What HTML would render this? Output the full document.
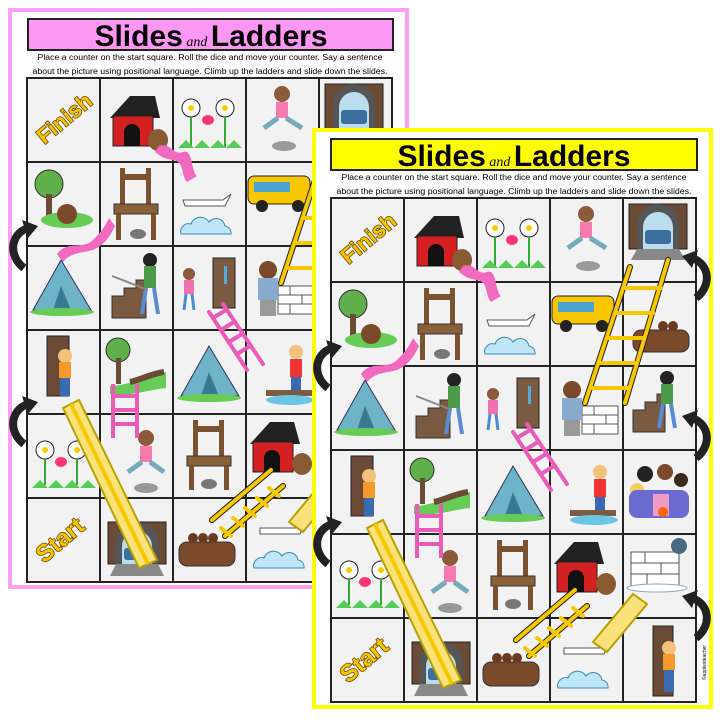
<!DOCTYPE html>
<html><head><meta charset="utf-8"><style>
html,body{margin:0;padding:0;background:#fff;width:720px;height:720px;overflow:hidden}
svg{display:block}
.t{font-family:"Liberation Sans",sans-serif;font-weight:bold}
.fs{font-family:"Liberation Sans",sans-serif;font-weight:bold;fill:#f8c200;stroke:#5a4000;stroke-width:1.4;paint-order:stroke}
</style></head><body>
<svg width="720" height="720" viewBox="0 0 720 720" xmlns="http://www.w3.org/2000/svg">
<defs>
<g id="board">
  <rect x="0" y="0" width="365" height="504" fill="#f2f2f2"/>
  <g transform="translate(73,0)">
    <polygon points="10,40 30,18 55,18 60,40" fill="#222"/>
    <rect x="13" y="38" width="40" height="30" fill="#d42020" stroke="#222"/>
    <path d="M24 68 v-14 a8 8 0 0 1 16 0 v14z" fill="#111"/>
    <ellipse cx="58" cy="62" rx="10" ry="11" fill="#8a5a32"/>
  </g>
  <g transform="translate(146,0)">
    <circle cx="18" cy="30" r="9" fill="#fff" stroke="#222"/><circle cx="18" cy="30" r="3" fill="#f5d000"/>
    <circle cx="52" cy="30" r="9" fill="#fff" stroke="#222"/><circle cx="52" cy="30" r="3" fill="#f5d000"/>
    <path d="M18 39v30M52 39v30" stroke="#3a3" stroke-width="2"/>
    <path d="M5 70 l8-8 8 8 8-8 8 8 8-8 8 8 8-8 8 8z" fill="#5c5"/>
    <ellipse cx="35" cy="42" rx="6" ry="5" fill="#f37"/>
  </g>
  <g transform="translate(219,0)">
    <circle cx="36" cy="16" r="8" fill="#8a5a3a"/><rect x="30" y="24" width="12" height="16" fill="#f47ab0"/>
    <path d="M32 40l-14 10M40 40l16 10" stroke="#7ab" stroke-width="5"/>
    <ellipse cx="38" cy="68" rx="12" ry="5" fill="#999"/>
  </g>
  <g transform="translate(292,0)">
    <rect x="6" y="6" width="58" height="45" fill="#6b4a36" stroke="#222"/>
    <path d="M14 51v-24a21 21 0 0 1 42 0v24z" fill="#555"/>
    <path d="M20 51v-22a15 15 0 0 1 30 0v22z" fill="#bde"/>
    <rect x="22" y="32" width="26" height="14" rx="3" fill="#3a6fa0"/>
    <polygon points="8,62 62,62 56,51 14,51" fill="#888"/>
  </g>
  <g transform="translate(0,84)">
    <circle cx="22" cy="22" r="14" fill="#5fb04a" stroke="#333"/><rect x="19" y="32" width="6" height="26" fill="#6b4a36"/>
    <ellipse cx="40" cy="58" rx="26" ry="8" fill="#6c5"/><ellipse cx="40" cy="52" rx="10" ry="10" fill="#7a4a2a"/>
  </g>
  <g transform="translate(73,84)">
    <rect x="20" y="6" width="5" height="36" fill="#7a5230"/><rect x="46" y="6" width="5" height="36" fill="#7a5230"/>
    <rect x="20" y="12" width="31" height="6" fill="#7a5230"/>
    <rect x="14" y="42" width="44" height="10" fill="#8a6038" stroke="#333"/>
    <rect x="16" y="52" width="5" height="26" fill="#7a5230"/><rect x="51" y="52" width="5" height="26" fill="#7a5230"/>
    <ellipse cx="38" cy="72" rx="8" ry="5" fill="#777"/>
  </g>
  <g transform="translate(146,84)">
    <path d="M10 38h40l8-6-6 12h-40z" fill="#fff" stroke="#555"/>
    <path d="M8 72a8 8 0 0 1 10-10a10 10 0 0 1 18-2a9 9 0 0 1 16 4a7 7 0 0 1 6 8z" fill="#bfe6f6" stroke="#3a8ab0"/>
  </g>
  <g transform="translate(219,84)">
    <rect x="2" y="14" width="62" height="28" rx="6" fill="#f8c700" stroke="#222"/>
    <rect x="8" y="20" width="36" height="10" fill="#4aa3d0"/>
    <circle cx="16" cy="44" r="6" fill="#222"/><circle cx="52" cy="44" r="6" fill="#222"/>
  </g>
  <g transform="translate(292,84)">
    <rect x="10" y="48" width="56" height="22" rx="8" fill="#7a4a2a" stroke="#333"/>
    <circle cx="40" cy="44" r="5" fill="#6a3a20"/><circle cx="50" cy="44" r="5" fill="#6a3a20"/>
  </g>
  <g transform="translate(0,168)">
    <polygon points="6,64 34,14 64,64" fill="#6fb3c8" stroke="#335"/>
    <polygon points="26,64 34,40 44,64" fill="#3a7a90"/>
    <ellipse cx="35" cy="66" rx="32" ry="4" fill="#6c5"/>
  </g>
  <g transform="translate(73,168)">
    <path d="M12 72v-22h12v-8h12v-8h10v38z" fill="#7a5a40" stroke="#333"/>
    <circle cx="50" cy="14" r="7" fill="#222"/><rect x="44" y="20" width="12" height="22" fill="#4a9a4a"/>
    <path d="M46 42l-4 26M54 42l4 26" stroke="#5a8ad0" stroke-width="4"/>
    <path d="M12 30l36 14" stroke="#888" stroke-width="2"/>
  </g>
  <g transform="translate(146,168)">
    <circle cx="16" cy="28" r="6" fill="#8a5a3a"/><rect x="11" y="34" width="10" height="14" fill="#f070b0"/>
    <path d="M13 48l-2 16M19 48l2 16" stroke="#4a8ad0" stroke-width="3"/>
    <rect x="40" y="12" width="22" height="50" fill="#7a5a40" stroke="#222"/>
    <rect x="51" y="20" width="3" height="18" fill="#5ad"/>
  </g>
  <g transform="translate(219,168)">
    <rect x="32" y="40" width="36" height="28" fill="#fff" stroke="#555"/>
    <path d="M32 49h36M32 58h36M44 40v9M56 49v9M44 58v10" stroke="#555"/>
    <circle cx="22" cy="24" r="9" fill="#7a4a2a"/><rect x="12" y="32" width="20" height="22" fill="#8ac"/>
    <rect x="14" y="54" width="16" height="16" fill="#999"/>
  </g>
  <g transform="translate(292,168)">
    <path d="M10 66v-22h12v-8h12v-8h8v38z" fill="#7a5a40" stroke="#333"/>
    <circle cx="44" cy="12" r="7" fill="#222"/><rect x="38" y="18" width="12" height="20" fill="#4a9a4a"/>
    <path d="M40 38l-4 24M48 38l4 24" stroke="#5a8ad0" stroke-width="4"/>
  </g>
  <g transform="translate(0,252)">
    <rect x="20" y="6" width="22" height="60" fill="#6a4a36" stroke="#222"/>
    <circle cx="38" cy="26" r="7" fill="#f3c17a"/><rect x="32" y="32" width="12" height="16" fill="#f59a2a"/>
    <rect x="33" y="48" width="10" height="18" fill="#3a6ab0"/>
  </g>
  <g transform="translate(73,252)">
    <circle cx="18" cy="20" r="12" fill="#5fb04a" stroke="#333"/><rect x="16" y="28" width="5" height="26" fill="#6b4a36"/>
    <path d="M10 56c20 0 30-10 56-14v16c-20 2-30 8-56 6z" fill="#6c5"/>
    <path d="M30 52c10-2 20-8 34-10" stroke="#6b4a36" stroke-width="6" fill="none"/>
  </g>
  <g transform="translate(146,252)">
    <polygon points="8,66 36,16 66,66" fill="#6fb3c8" stroke="#335"/>
    <polygon points="28,66 36,42 46,66" fill="#3a7a90"/>
    <ellipse cx="36" cy="68" rx="32" ry="4" fill="#6c5"/>
  </g>
  <g transform="translate(219,252)">
    <circle cx="50" cy="22" r="7" fill="#f3c17a"/><rect x="44" y="29" width="12" height="18" fill="#e33"/>
    <rect x="45" y="47" width="10" height="14" fill="#3a6ab0"/>
    <rect x="20" y="60" width="46" height="6" fill="#7a5a40"/>
    <ellipse cx="44" cy="70" rx="24" ry="5" fill="#6bc6e6"/>
  </g>
  <g transform="translate(292,252)">
    <circle cx="22" cy="24" r="8" fill="#222"/><circle cx="42" cy="22" r="8" fill="#7a4a2a"/><circle cx="58" cy="30" r="7" fill="#3a2a1a"/>
    <circle cx="14" cy="40" r="7" fill="#f2d060"/>
    <rect x="6" y="40" width="60" height="28" rx="8" fill="#6a6ad0"/>
    <rect x="30" y="44" width="16" height="22" fill="#f09ac8"/>
    <circle cx="40" cy="62" r="5" fill="#f60"/>
  </g>
  <g transform="translate(0,336)">
    <circle cx="18" cy="36" r="9" fill="#fff" stroke="#222"/><circle cx="18" cy="36" r="3" fill="#f5d000"/>
    <circle cx="50" cy="36" r="9" fill="#fff" stroke="#222"/><circle cx="50" cy="36" r="3" fill="#f5d000"/>
    <path d="M18 45v26M50 45v26" stroke="#3a3" stroke-width="2"/>
    <path d="M5 74l8-8 8 8 8-8 8 8 8-8 8 8 8-8 8 8z" fill="#5c5"/>
    <ellipse cx="34" cy="48" rx="6" ry="5" fill="#f37"/>
  </g>
  <g transform="translate(73,336)">
    <circle cx="46" cy="24" r="8" fill="#8a5a3a"/><rect x="40" y="32" width="12" height="16" fill="#f47ab0"/>
    <path d="M42 48l-14 10M50 48l14 10" stroke="#7ab" stroke-width="5"/>
    <ellipse cx="46" cy="74" rx="12" ry="5" fill="#999"/>
  </g>
  <g transform="translate(146,336)">
    <rect x="20" y="6" width="5" height="36" fill="#7a5230"/><rect x="46" y="6" width="5" height="36" fill="#7a5230"/>
    <rect x="20" y="12" width="31" height="6" fill="#7a5230"/>
    <rect x="14" y="42" width="44" height="10" fill="#8a6038" stroke="#333"/>
    <rect x="16" y="52" width="5" height="24" fill="#7a5230"/><rect x="51" y="52" width="5" height="24" fill="#7a5230"/>
    <ellipse cx="36" cy="70" rx="8" ry="5" fill="#777"/>
  </g>
  <g transform="translate(219,336)">
    <polygon points="4,30 24,8 48,8 54,30" fill="#222"/>
    <rect x="7" y="28" width="40" height="30" fill="#d42020" stroke="#222"/>
    <path d="M18 58v-14a8 8 0 0 1 16 0v14z" fill="#111"/>
    <ellipse cx="56" cy="50" rx="10" ry="11" fill="#8a5a32"/>
  </g>
  <g transform="translate(292,336)">
    <rect x="8" y="18" width="48" height="34" fill="#fff" stroke="#555"/>
    <path d="M8 29h48M8 40h48M22 18v11M38 29v11M24 40v12" stroke="#555"/>
    <ellipse cx="34" cy="54" rx="30" ry="4" fill="#fff" stroke="#8ab"/>
    <circle cx="56" cy="12" r="8" fill="#4a6a80"/>
  </g>
  <g transform="translate(73,420)">
    <rect x="8" y="24" width="58" height="42" fill="#6b4a36" stroke="#222"/>
    <path d="M15 66v-20a22 22 0 0 1 44 0v20z" fill="#555"/>
    <path d="M22 66v-18a15 15 0 0 1 30 0v18z" fill="#bde"/>
    <rect x="24" y="50" width="26" height="12" rx="3" fill="#3a6fa0"/>
    <polygon points="10,78 64,78 58,66 16,66" fill="#888"/>
  </g>
  <g transform="translate(146,420)">
    <rect x="6" y="44" width="56" height="24" rx="8" fill="#7a4a2a" stroke="#333"/>
    <circle cx="20" cy="40" r="5" fill="#6a3a20"/><circle cx="30" cy="40" r="5" fill="#6a3a20"/><circle cx="40" cy="40" r="5" fill="#6a3a20"/>
  </g>
  <g transform="translate(219,420)">
    <path d="M14 30h38l8-6-6 12h-40z" fill="#fff" stroke="#555"/>
    <path d="M8 70a8 8 0 0 1 10-10a10 10 0 0 1 18-2a9 9 0 0 1 16 4a7 7 0 0 1 6 8z" fill="#bfe6f6" stroke="#3a8ab0"/>
  </g>
  <g transform="translate(292,420)">
    <rect x="30" y="8" width="20" height="70" fill="#6a4a36" stroke="#222"/>
    <circle cx="46" cy="30" r="7" fill="#f3c17a"/><rect x="40" y="36" width="12" height="16" fill="#f59a2a"/>
    <rect x="41" y="52" width="10" height="22" fill="#3a6ab0"/>
  </g>
  <g stroke="#222" stroke-width="2" fill="none">
    <rect x="0" y="0" width="365" height="504"/>
    <path d="M73 0v504M146 0v504M219 0v504M292 0v504M0 84h365M0 168h365M0 252h365M0 336h365M0 420h365"/>
  </g>
  <path d="M132 68c12-4 14 10 24 6s8 20 14 24l-10 6c-6-6-2-20-14-22s-12-4-18-8z" fill="#f06ac0"/>
  <path d="M30 176c10-14 26-4 36-14s12-14 16-22l6 8c-4 8-8 16-18 22s-24 2-34 14z" fill="#f06ac0"/>
  <g stroke="#222" stroke-width="6" stroke-linecap="round"><path d="M299 69L254 205M337 62L294 205"/></g>
  <g stroke="#f5c800" stroke-width="4" stroke-linecap="round"><path d="M299 69L254 205M337 62L294 205"/>
  <path d="M292 90h38M284 115h38M276 140h37M268 165h37M260 190h37"/></g>
  <g stroke="#e85cb8" stroke-width="4" stroke-linecap="round">
    <path d="M182 234L220 292M196 226L236 286M186 240l13-8M194 252l13-8M202 264l13-8M210 276l13-8"/>
  </g>
  <g stroke="#e85cb8" stroke-width="4">
    <path d="M86 306v54M110 306v54M86 318h24M86 332h24M86 346h24"/>
  </g>
  <polygon points="36,330 52,322 130,482 112,490" fill="#f9e27a" stroke="#b8a000" stroke-width="2"/>
  <path d="M44 326L121 486" stroke="#f5c800" stroke-width="4"/>
  <g stroke="#222" stroke-width="6" stroke-linecap="round"><path d="M185 442L244 392M198 458L256 408"/></g>
  <g stroke="#f5c800" stroke-width="4" stroke-linecap="round">
    <path d="M185 442L244 392M198 458L256 408M194 450l10 8M206 440l10 8M218 430l10 8M230 420l10 8M242 410l10 8"/>
  </g>
  <polygon points="262,444 302,396 316,406 276,454" fill="#f9e27a" stroke="#b8a000" stroke-width="2"/>
</g>
<g id="arrowUpR"><path d="M16 48C0 36 2 14 20 8" stroke="#222" stroke-width="8" fill="none"/><polygon points="14,0 30,6 20,18" fill="#222"/></g>
</defs>

<rect x="10" y="10" width="397" height="577" fill="#fff" stroke="#f9a0f2" stroke-width="4"/>
<rect x="28" y="19" width="365" height="31" fill="#fc98f4" stroke="#222" stroke-width="2"/>
<text x="211" y="46" text-anchor="middle" class="t" font-size="30"><tspan>Slides</tspan><tspan font-family="Liberation Serif" font-style="italic" font-weight="normal" font-size="14"> and </tspan><tspan>Ladders</tspan></text>
<text x="210" y="60" text-anchor="middle" font-family="Liberation Sans" font-size="8" textLength="345" lengthAdjust="spacingAndGlyphs">Place a counter on the start square. Roll the dice and move your counter. Say a sentence</text>
<text x="210" y="74" text-anchor="middle" font-family="Liberation Sans" font-size="8" textLength="355" lengthAdjust="spacingAndGlyphs">about the picture using positional language. Climb up the ladders and slide down the slides.</text>
<use href="#board" transform="translate(27,78)"/>
<text x="64" y="126" text-anchor="middle" class="fs" font-size="22" transform="rotate(-40 64 118)">Finish</text>
<text x="60" y="548" text-anchor="middle" class="fs" font-size="24" transform="rotate(-40 60 540)">Start</text>
<use href="#arrowUpR" transform="translate(8,220)"/>
<use href="#arrowUpR" transform="translate(8,396)"/>

<rect x="314" y="130" width="397" height="577" fill="#fff" stroke="#ffff00" stroke-width="4"/>
<rect x="331" y="139" width="366" height="31" fill="#ffff00" stroke="#222" stroke-width="2"/>
<text x="514" y="166" text-anchor="middle" class="t" font-size="30"><tspan>Slides</tspan><tspan font-family="Liberation Serif" font-style="italic" font-weight="normal" font-size="14"> and </tspan><tspan>Ladders</tspan></text>
<text x="514" y="180" text-anchor="middle" font-family="Liberation Sans" font-size="8" textLength="345" lengthAdjust="spacingAndGlyphs">Place a counter on the start square. Roll the dice and move your counter. Say a sentence</text>
<text x="514" y="194" text-anchor="middle" font-family="Liberation Sans" font-size="8" textLength="355" lengthAdjust="spacingAndGlyphs">about the picture using positional language. Climb up the ladders and slide down the slides.</text>
<use href="#board" transform="translate(331,198)"/>
<text x="368" y="246" text-anchor="middle" class="fs" font-size="22" transform="rotate(-40 368 238)">Finish</text>
<text x="364" y="668" text-anchor="middle" class="fs" font-size="24" transform="rotate(-40 364 660)">Start</text>
<text x="706" y="680" font-family="Liberation Sans" font-size="5" transform="rotate(-90 706 680)">©applesteacher</text>
<use href="#arrowUpR" transform="translate(312,340)"/>
<use href="#arrowUpR" transform="translate(312,516)"/>
<use href="#arrowUpR" transform="translate(712,250) scale(-1,1)"/>
<use href="#arrowUpR" transform="translate(712,410) scale(-1,1)"/>
<use href="#arrowUpR" transform="translate(712,590) scale(-1,1)"/>
</svg>
</body></html>
